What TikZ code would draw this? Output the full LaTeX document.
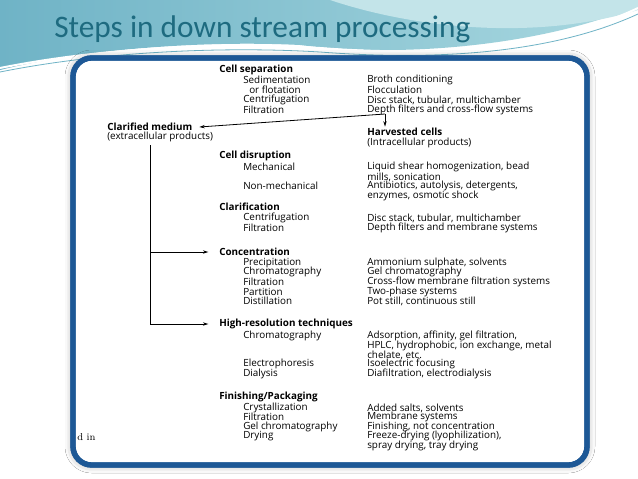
\documentclass[tikz,border=0pt]{standalone}
\usepackage{fontspec}
\setmainfont{Open Sans}
\newfontfamily\titlefont{Carlito}
\usetikzlibrary{arrows.meta,shadows.blur}
\definecolor{teal1}{HTML}{6FB3C6}
\definecolor{teal2}{HTML}{A9D8E0}
\definecolor{titlec}{HTML}{1E6B80}
\definecolor{boxc}{HTML}{1D5896}
\tikzset{
 t/.style={anchor=west,inner sep=0pt,font=\fontsize{7.4}{8}\selectfont},
 h/.style={t,font=\fontsize{7.4}{8}\selectfont\bfseries},
 ar/.style={-{Stealth[length=4pt,width=2.5pt]},line width=0.6pt},
 ln/.style={line width=0.6pt}
}
\begin{document}
\begin{tikzpicture}[x=0.75pt,y=-0.75pt]
\useasboundingbox (0,0) rectangle (638,478);
\fill[white] (0,0) rectangle (638,478);
% background swooshes
\shade[left color=teal1,right color=teal2] (0,0) -- (638,0) -- (638,5) .. controls (560,40) and (420,60) .. (300,45) .. controls (200,40) and (80,50) .. (0,70) -- cycle;
\fill[teal2!70!white] (330,0) .. controls (420,30) and (540,40) .. (638,10) -- (638,0) -- cycle;
\draw[white,line width=1.5pt] (0,68) .. controls (100,48) and (220,42) .. (320,48) .. controls (450,58) and (560,45) .. (638,8);
\draw[teal1,line width=0.6pt] (0,72) .. controls (100,52) and (220,46) .. (320,52) .. controls (450,62) and (560,50) .. (638,14);
\node[anchor=base west,inner sep=0pt,text=titlec,font=\titlefont\fontsize{23.5}{26}\selectfont] (title) at (54,38) {Steps in down stream processing};
% box
\draw[boxc,line width=4pt,fill=white,rounded corners=14pt,blur shadow={shadow xshift=0pt,shadow yshift=0pt,shadow blur radius=6pt,shadow opacity=40,shadow blur extra rounding=4pt}] (73,58) rectangle (587,465);
\draw[boxc,line width=4pt,rounded corners=14pt] (73,58) rectangle (587,465);
% texts
\node[h] (cs) at (219,70) {Cell separation};
\node[t] at (243,80) {Sedimentation}; \node[t] at (367,80) {Broth conditioning};
\node[t] at (249,90) {or flotation}; \node[t] at (367,90) {Flocculation};
\node[t] at (243,100) {Centrifugation}; \node[t] at (367,100) {Disc stack, tubular, multichamber};
\node[t] at (243,110) {Filtration}; \node[t] (df) at (367,110) {Depth filters and cross-flow systems};
\node[h] (cm) at (107,127) {Clarified medium};
\node[t] (ep) at (107,137) {(extracellular products)};
\node[h] (hc) at (367,132) {Harvested cells};
\node[t] at (367,143) {(Intracellular products)};
\node[h] at (219,156) {Cell disruption};
\node[t] at (243,167) {Mechanical}; \node[t] at (367,167) {Liquid shear homogenization, bead};
\node[t] at (367,177) {mills, sonication};
\node[t] at (243,186) {Non-mechanical}; \node[t] at (367,186) {Antibiotics, autolysis, detergents,};
\node[t] at (367,196) {enzymes, osmotic shock};
\node[h] at (219,207) {Clarification};
\node[t] at (243,218) {Centrifugation}; \node[t] at (367,218) {Disc stack, tubular, multichamber};
\node[t] at (243,228) {Filtration}; \node[t] at (367,228) {Depth filters and membrane systems};
\node[h] (co) at (219,252) {Concentration};
\node[t] at (243,263) {Precipitation}; \node[t] at (367,263) {Ammonium sulphate, solvents};
\node[t] at (243,272) {Chromatography}; \node[t] at (367,272) {Gel chromatography};
\node[t] at (243,282) {Filtration}; \node[t] at (367,282) {Cross-flow membrane filtration systems};
\node[t] at (243,292) {Partition}; \node[t] at (367,292) {Two-phase systems};
\node[t] at (243,301) {Distillation}; \node[t] at (367,301) {Pot still, continuous still};
\node[h] (hr) at (219,324) {High-resolution techniques};
\node[t] at (243,336) {Chromatography}; \node[t] at (367,336) {Adsorption, affinity, gel filtration,};
\node[t] at (367,346) {HPLC, hydrophobic, ion exchange, metal};
\node[t] at (367,355) {chelate, etc.};
\node[t] at (243,364) {Electrophoresis}; \node[t] at (367,364) {Isoelectric focusing};
\node[t] at (243,374) {Dialysis}; \node[t] at (367,374) {Diafiltration, electrodialysis};
\node[h] at (219,397) {Finishing/Packaging};
\node[t] at (243,408) {Crystallization}; \node[t] at (367,408) {Added salts, solvents};
\node[t] at (243,417) {Filtration}; \node[t] at (367,417) {Membrane systems};
\node[t] at (243,427) {Gel chromatography}; \node[t] at (367,427) {Finishing, not concentration};
\node[t] at (243,436) {Drying}; \node[t] at (367,436) {Freeze-drying (lyophilization),};
\node[t] at (367,446) {spray drying, tray drying};
\node[t,font=\fontfamily{lmr}\fontsize{7.5}{8}\selectfont] at (77,437) {d in};
% connectors
\coordinate (sp) at (385,114);
\coordinate (top) at (150,145);
\coordinate (b1) at (150,252);
\coordinate (b2) at (150,324);
\draw[ar] (sp) -- ([xshift=5pt]cm.east);
\draw[ar] (sp) -- ([yshift=1pt]hc.north -| sp);
\draw[ln] (top) -- (b2);
\draw[ar] (b1) -- ([xshift=-8pt]co.west);
\draw[ar] (b2) -- ([xshift=-8pt]hr.west);
\end{tikzpicture}
\end{document}
